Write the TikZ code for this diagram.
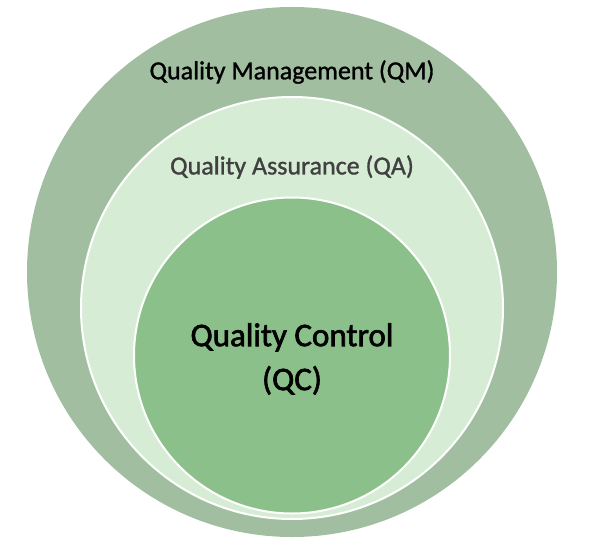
\documentclass[tikz,border=0pt]{standalone}
\usepackage{fontspec}
\setmainfont{Carlito}
\newfontface\labelfont{Carlito}[FakeBold=1.2]
\newfontface\mainlabelfont{Carlito}[FakeBold=2]
\usetikzlibrary{positioning}
\definecolor{qmgreen}{HTML}{A1BFA0}
\definecolor{qagreen}{HTML}{D7ECD5}
\definecolor{qcgreen}{HTML}{8CC08A}
\definecolor{qatext}{HTML}{404040}

\begin{document}
\begin{tikzpicture}[x=1pt,y=-1pt]
    \useasboundingbox (0,0) rectangle (599,545);
    \begin{scope}[every node/.style={circle,inner sep=0pt}]
      \node (qm) [fill=qmgreen,minimum size=530pt] at (292,272) {};
      \node (qa) [fill=qagreen,draw=white,line width=2pt,minimum size=422pt] at (292,308) {};
      \node (qc) [fill=qcgreen,draw=white,line width=2pt,minimum size=316pt] at (292,355.5) {};
    \end{scope}
    \begin{scope}[every node/.style={align=center,font=\labelfont\fontsize{26}{31}\selectfont}]
      \node (qmtext) at (292,72) {Quality Management (QM)};
      \node (qatext) [text=qatext] at (292,167) {Quality Assurance (QA)};
      \node (qctext) [font=\mainlabelfont\fontsize{33}{44}\selectfont] at (292,359) {Quality Control\\(QC)};
    \end{scope}
  \end{tikzpicture}
\end{document}
